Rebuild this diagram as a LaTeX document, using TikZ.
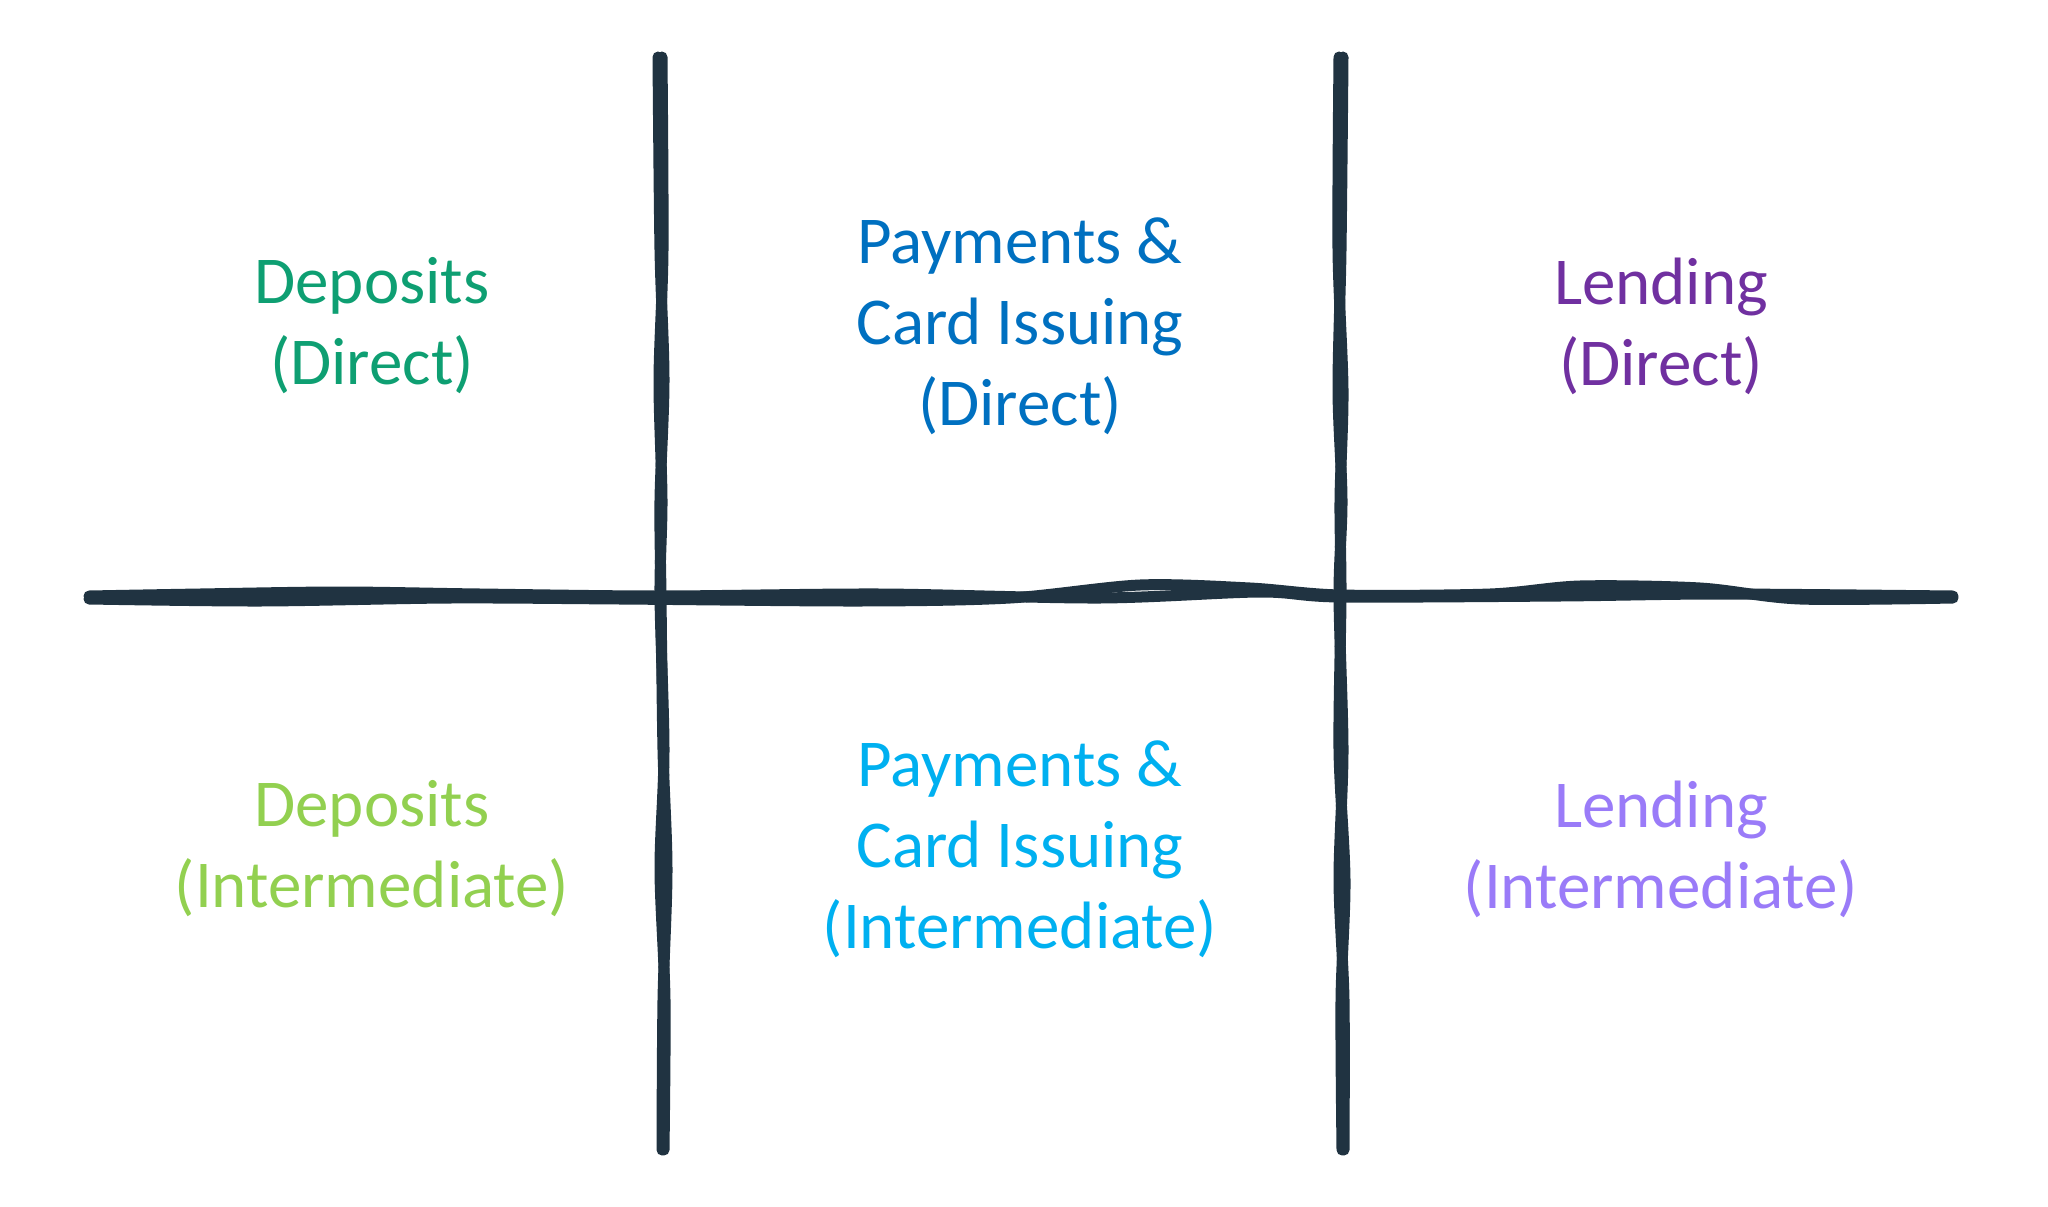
\documentclass[tikz,border=0pt]{standalone}
\usepackage{fontspec}
\setmainfont{Carlito}
\definecolor{ink}{HTML}{203341}
\definecolor{depD}{HTML}{0E9F72}
\definecolor{payD}{HTML}{0070C0}
\definecolor{lenD}{HTML}{7030A0}
\definecolor{depI}{HTML}{92D050}
\definecolor{payI}{HTML}{00B0F0}
\definecolor{lenI}{HTML}{9A7BF8}
\begin{document}
\begin{tikzpicture}[x=1pt,y=-1pt,
  stroke/.style={draw=ink,line width=11pt,line cap=round,line join=round},
  label/.style={font=\fontsize{67}{81}\selectfont,align=center,inner sep=0pt}]
\useasboundingbox (0,0) rectangle (2048,1207);
% vertical line 1
\draw[stroke] plot[smooth] coordinates {(658,57) (660,250) (664,380) (660,500) (661,596) (663,750) (667,870) (663,1000) (662,1150)};
\draw[stroke] plot[smooth] coordinates {(662,57) (663,250) (659,380) (662,500) (660,596) (664,750) (660,870) (665,1000) (664,1150)};
% vertical line 2
\draw[stroke] plot[smooth] coordinates {(1339,57) (1338,250) (1343,390) (1340,500) (1341,596) (1339,750) (1345,880) (1341,1000) (1342,1150)};
\draw[stroke] plot[smooth] coordinates {(1343,57) (1341,250) (1338,390) (1342,500) (1339,596) (1343,750) (1339,880) (1344,1000) (1344,1150)};
% horizontal line
\draw[stroke] plot[smooth] coordinates {(89,596) (200,594) (340,592) (480,594) (660,596) (880,594) (1100,598) (1260,592) (1340,597) (1560,596) (1720,594) (1953,596)};
\draw[stroke] plot[smooth] coordinates {(89,599) (260,601) (450,598) (620,599) (860,601) (1010,598) (1140,585) (1250,588) (1340,595) (1490,594) (1580,586) (1700,588) (1800,599) (1953,598)};
% labels
\node[label,text=depD] (dd) at (372,326) {Deposits\\(Direct)};
\node[label,text=payD] (pd) at (1020,326) {Payments \&\\Card Issuing\\(Direct)};
\node[label,text=lenD] (ld) at (1661,326) {Lending\\(Direct)};
\node[label,text=depI] (di) at (372,849) {Deposits\\(Intermediate)};
\node[label,text=payI] (pi) at (1020,849) {Payments \&\\Card Issuing\\(Intermediate)};
\node[label,text=lenI] (li) at (1661,849) {Lending\\(Intermediate)};
\end{tikzpicture}
\end{document}
